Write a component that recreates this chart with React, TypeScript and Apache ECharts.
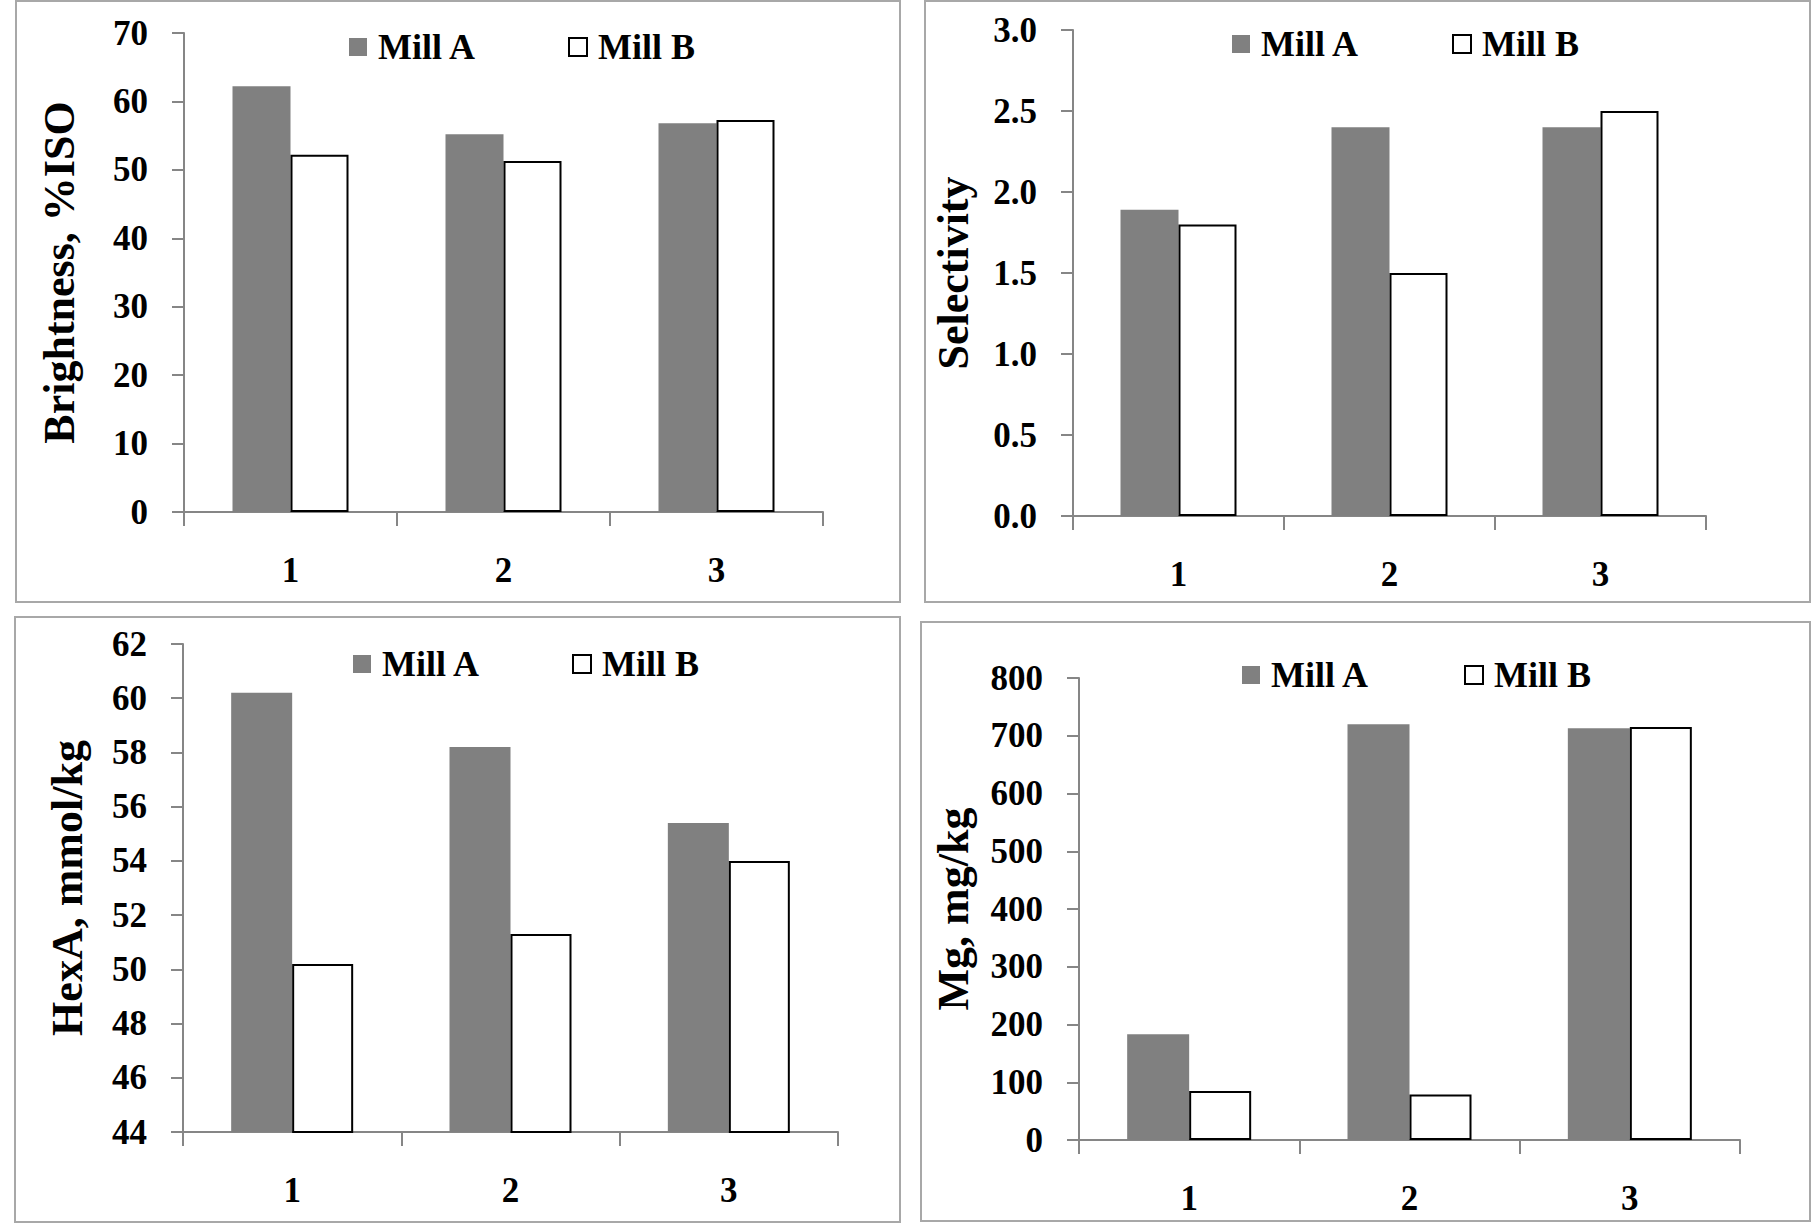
import React, { useEffect, useRef } from "react";
import * as echarts from "echarts";

// Sample numbers along the x axis
const categories = ["1", "2", "3"];
const seriesNames = ["Mill A", "Mill B"];

// Brightness, %ISO
const brightnessA = [62.2, 55.2, 56.8];
const brightnessB = [52.2, 51.3, 57.3];
// Selectivity
const selectivityA = [1.89, 2.4, 2.4];
const selectivityB = [1.8, 1.5, 2.5];
// HexA, mmol/kg
const hexaA = [60.2, 58.2, 55.4];
const hexaB = [50.2, 51.3, 54.0];
// Mg, mg/kg
const mgA = [183, 720, 713];
const mgB = [85, 79, 715];

// Value-axis ranges: [min, max, interval, decimals]
const brightnessAxis = [0, 70, 10, 0];
const selectivityAxis = [0, 3, 0.5, 1];
const hexaAxis = [44, 62, 2, 0];
const mgAxis = [0, 800, 100, 0];

const titles = ["Brightness, %ISO", "Selectivity", "HexA, mmol/kg", "Mg, mg/kg"];

const FONT = '"Liberation Serif", "Times New Roman", serif';
const GRAY = "#808080";
const AXIS = "#868686";

type Panel = {
  grid: { left: number; top: number; width: number; height: number };
  a: number[];
  b: number[];
  axis: number[];
  title: string;
  nameGap: number;
  barWidth: number;
  legendTop: number;
  legendA: number;
  legendB: number;
  frame: [number, number, number, number];
};

const panels: Panel[] = [
  {
    grid: { left: 184, top: 33, width: 639, height: 479 },
    a: brightnessA, b: brightnessB, axis: brightnessAxis, title: titles[0],
    nameGap: 103, barWidth: 58, legendTop: 29, legendA: 349, legendB: 568,
    frame: [16, 1, 884, 601],
  },
  {
    grid: { left: 1073, top: 30, width: 633, height: 486 },
    a: selectivityA, b: selectivityB, axis: selectivityAxis, title: titles[1],
    nameGap: 98, barWidth: 58, legendTop: 26, legendA: 1232, legendB: 1452,
    frame: [925, 1, 885, 601],
  },
  {
    grid: { left: 183, top: 644, width: 655, height: 488 },
    a: hexaA, b: hexaB, axis: hexaAxis, title: titles[2],
    nameGap: 94, barWidth: 61, legendTop: 646, legendA: 353, legendB: 572,
    frame: [15, 617, 885, 605],
  },
  {
    grid: { left: 1079, top: 678, width: 661, height: 462 },
    a: mgA, b: mgB, axis: mgAxis, title: titles[3],
    nameGap: 104, barWidth: 62, legendTop: 657, legendA: 1242, legendB: 1464,
    frame: [921, 622, 889, 599],
  },
];

const styleA = { color: GRAY };
const styleB = { color: "#ffffff", borderColor: "#000000", borderWidth: 2 };

function buildOption() {
  const grid: any[] = [];
  const xAxis: any[] = [];
  const yAxis: any[] = [];
  const series: any[] = [];
  const legend: any[] = [];
  const graphic: any[] = [];

  panels.forEach((p, i) => {
    grid.push({ ...p.grid, containLabel: false });
    xAxis.push({
      type: "category",
      gridIndex: i,
      data: categories,
      boundaryGap: true,
      axisLine: { show: true, lineStyle: { color: AXIS, width: 2 } },
      axisTick: { show: true, length: 14, lineStyle: { color: AXIS, width: 2 } },
      axisLabel: {
        margin: 41,
        fontFamily: FONT,
        fontWeight: "bold",
        fontSize: 35,
        color: "#000",
      },
      splitLine: { show: false },
    });
    const [min, max, interval, decimals] = p.axis;
    yAxis.push({
      type: "value",
      gridIndex: i,
      min,
      max,
      interval,
      name: p.title,
      nameLocation: "middle",
      nameRotate: 90,
      nameGap: p.nameGap,
      nameTextStyle: {
        fontFamily: FONT,
        fontWeight: "bold",
        fontSize: 44,
        color: "#000",
      },
      axisLine: { show: true, lineStyle: { color: AXIS, width: 2 } },
      axisTick: { show: true, length: 12, lineStyle: { color: AXIS, width: 2 } },
      axisLabel: {
        margin: 36,
        fontFamily: FONT,
        fontWeight: "bold",
        fontSize: 35,
        color: "#000",
        formatter: (v: number) => v.toFixed(decimals),
      },
      splitLine: { show: false },
    });
    series.push({
      type: "bar",
      name: seriesNames[0],
      xAxisIndex: i,
      yAxisIndex: i,
      data: p.a,
      barWidth: p.barWidth,
      barGap: "0%",
      itemStyle: styleA,
    });
    series.push({
      type: "bar",
      name: seriesNames[1],
      xAxisIndex: i,
      yAxisIndex: i,
      data: p.b,
      barWidth: p.barWidth,
      barGap: "0%",
      itemStyle: styleB,
    });
    const legendBase = {
      top: p.legendTop,
      itemWidth: 18,
      itemHeight: 18,
      padding: 0,
      icon: "rect",
      selectedMode: false,
      textStyle: {
        fontFamily: FONT,
        fontWeight: "bold",
        fontSize: 36,
        color: "#000",
        padding: [0, 0, 0, 6],
      },
    };
    legend.push({
      ...legendBase,
      left: p.legendA,
      data: [{ name: seriesNames[0], itemStyle: styleA }],
    });
    legend.push({
      ...legendBase,
      left: p.legendB,
      data: [{ name: seriesNames[1], itemStyle: styleB }],
    });
    const [fx, fy, fw, fh] = p.frame;
    graphic.push({
      type: "rect",
      z: -1,
      shape: { x: fx, y: fy, width: fw, height: fh },
      style: { fill: "none", stroke: "#a8a8a8", lineWidth: 2 },
      silent: true,
    });
  });

  return {
    animation: false,
    backgroundColor: "#ffffff",
    grid,
    xAxis,
    yAxis,
    series,
    legend,
    graphic,
  };
}

export default function App() {
  const ref = useRef<HTMLDivElement>(null);
  useEffect(() => {
    if (!ref.current) return;
    const chart = echarts.init(ref.current, undefined, { renderer: "svg" });
    chart.setOption(buildOption());
    return () => chart.dispose();
  }, []);
  return (
    <div
      ref={ref}
      style={{
        position: "fixed",
        left: 0,
        top: 0,
        width: 1819,
        height: 1224,
        background: "#ffffff",
      }}
    />
  );
}
